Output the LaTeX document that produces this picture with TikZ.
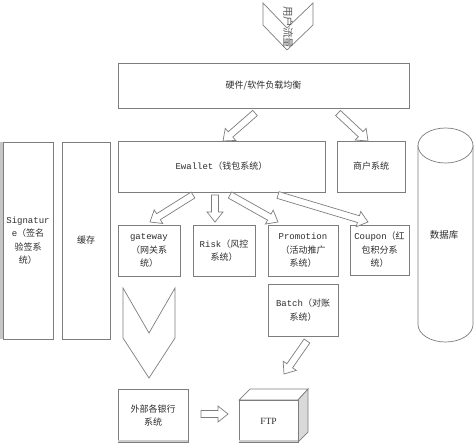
\documentclass[tikz,border=0pt]{standalone}
\usepackage{fontspec}
\setmainfont{Liberation Mono}
\newfontfamily\cjk{Noto Sans CJK SC}
\newfontfamily\tms{Liberation Serif}
\usetikzlibrary{calc}
\definecolor{ln}{RGB}{125,125,125}
\definecolor{tx}{RGB}{45,45,45}
\newcommand{\hollowarrow}[2]{%
  \coordinate (#1-#2-h) at ($(#2)!10pt!(#1)$);
  \draw[harrow] ($(#1)!3.5pt!90:(#2)$) -- ($(#1-#2-h)!3.5pt!90:(#2)$)
    -- ($(#1-#2-h)!8pt!90:(#2)$) -- (#2) -- ($(#1-#2-h)!8pt!-90:(#2)$)
    -- ($(#1-#2-h)!3.5pt!-90:(#2)$) -- ($(#1)!3.5pt!-90:(#2)$) -- cycle;}
\begin{document}
\begin{tikzpicture}[x=1pt,y=-1pt,
  box/.style={draw=ln,line width=0.8pt,fill=white,inner sep=0pt,align=center,text=tx,font=\fontsize{9}{13.5}\selectfont},
  harrow/.style={draw=ln,line width=0.7pt,fill=white,line join=miter},
  chev/.style={draw=ln,line width=0.7pt,fill=white}]
\useasboundingbox[fill=white] (0,0) rectangle (474,442);

% top chevron
\path[chev] (263,3) -- (287,28) -- (313,3) -- (313,25) -- (287,50) -- (263,25) -- cycle;
\node[rotate=-90,text=tx!80,font=\cjk\fontsize{10.5}{11}\selectfont,inner sep=0pt] (uf) at (288,27) {用户流量};

% boxes
\node[box,minimum width=291,minimum height=45] (lb) at (263.5,85.5) {\cjk 硬件/软件负载均衡};
\node[box,minimum width=207,minimum height=51] (ew) at (221.5,166.5) {Ewallet{\cjk（钱包系统）}};
\node[box,minimum width=68,minimum height=51] (mer) at (371,166.5) {\cjk 商户系统};
\node[box,minimum width=62,minimum height=51] (gw) at (149,250.5) {gateway\\{\cjk（网关系}\\{\cjk 统）}};
\node[box,minimum width=62,minimum height=51] (risk) at (224,250.5) {Risk{\cjk（风控}\\{\cjk 系统）}};
\node[box,minimum width=70,minimum height=51] (promo) at (303,250.5) {Promotion\\{\cjk（活动推广}\\{\cjk 系统）}};
\node[box,minimum width=59,minimum height=50] (coupon) at (379.5,250) {Coupon{\cjk（红}\\{\cjk 包积分系}\\{\cjk 统）}};
\node[box,minimum width=70,minimum height=52] (batch) at (303,310) {Batch{\cjk（对账}\\{\cjk 系统）}};
\node[box,minimum width=50,minimum height=197] (sig) at (28,240.5) {Signatur\\e{\cjk（签名}\\{\cjk 验签系}\\{\cjk 统）}};
\node[box,minimum width=48,minimum height=197] (cache) at (86,240.5) {\cjk 缓存};
\fill[gray!45] (0,142) rectangle (2.6,339);

% database cylinder
\path[chev] (418,145.5) -- (418,324.5) arc[start angle=180,end angle=360,x radius=27.5pt,y radius=17.5pt] -- (473,145.5) -- cycle;
\draw[ln,line width=0.7pt,fill=white] (445.5,145.5) ellipse [x radius=27.5pt,y radius=17.5pt];
\node[text=tx,font=\cjk\fontsize{9.5}{11}\selectfont] (db) at (444,235) {数据库};

% big chevron
\path[chev] (123,288) -- (149,333) -- (175,288) -- (175,338) -- (149,378) -- (123,338) -- cycle;

% bank and FTP
\node[box,minimum width=70,minimum height=53] (bank) at (153,415.5) {{\cjk 外部各银行}\\{\cjk 系统}};
\fill[gray!40] (118.4,439.5) rectangle (187.6,442);
\path[chev] (239,400) -- (250,389) -- (308,389) -- (298,400) -- cycle;
\path[chev,fill=gray!30] (298,400) -- (308,389) -- (308,432) -- (298,442) -- cycle;
\node[box,minimum width=59,minimum height=42,font=\tms\fontsize{9.5}{11}\selectfont] (ftp) at (268.5,421) {FTP};
\fill[gray!40] (239.4,439.5) rectangle (297.6,442);

% arrow endpoints
\coordinate (a1s) at (255,113); \coordinate (a1e) at (223,141);
\coordinate (a2s) at (338,113); \coordinate (a2e) at (368,141);
\coordinate (a3s) at (193,195); \coordinate (a3e) at (150,222);
\coordinate (a4s) at (215,195); \coordinate (a4e) at (215,222);
\coordinate (a5s) at (230,195); \coordinate (a5e) at (278,222);
\coordinate (a6s) at (278,195); \coordinate (a6e) at (368,222);
\coordinate (a7s) at (307,341); \coordinate (a7e) at (284,374);
\coordinate (a8s) at (201,414); \coordinate (a8e) at (228,414);

\hollowarrow{a1s}{a1e}
\hollowarrow{a2s}{a2e}
\hollowarrow{a3s}{a3e}
\hollowarrow{a4s}{a4e}
\hollowarrow{a5s}{a5e}
\hollowarrow{a6s}{a6e}
\hollowarrow{a7s}{a7e}
\hollowarrow{a8s}{a8e}
\end{tikzpicture}
\end{document}
